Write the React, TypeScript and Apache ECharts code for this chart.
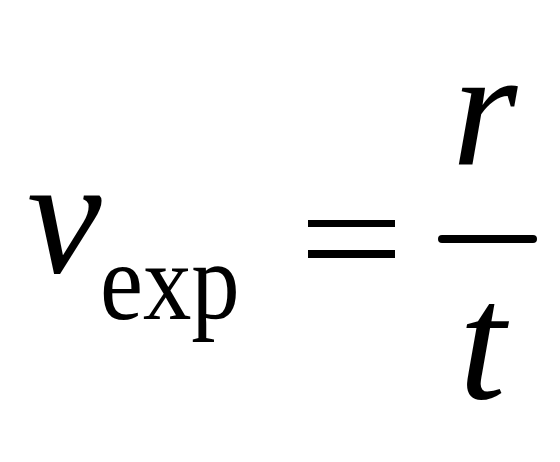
import { useEffect, useRef } from "react";
import * as echarts from "echarts";

// formula pieces: v_exp = r / t
const letters = ["v", "exp", "r", "t"];
const letterStyles = ["italic", "normal", "italic", "italic"];
const family = "Liberation Serif";

export default function App() {
  const chartRef = useRef<HTMLDivElement>(null);

  useEffect(() => {
    if (!chartRef.current) return;
    const chart = echarts.init(chartRef.current, undefined, { renderer: "svg" });

    // placement of each piece: left, top, horizontal and vertical scale
    const place = [
      [27, 131, 4.2, 4.2],
      [100, 227, 2.42, 2.75],
      [452, 24, 4.2, 4.2],
      [459, 257, 4.2, 4.2],
    ];

    chart.setOption({
      animation: false,
      graphic: [
        ...letters.map((t, i) => ({
          type: "text",
          x: place[i][0],
          y: place[i][1],
          scaleX: place[i][2],
          scaleY: place[i][3],
          style: {
            text: t,
            fontFamily: family,
            fontSize: 40,
            fontStyle: letterStyles[i],
            fill: "#000",
          },
        })),
        // equals sign
        { type: "rect", shape: { x: 308, y: 220, width: 87, height: 7 }, style: { fill: "#000" } },
        { type: "rect", shape: { x: 308, y: 250, width: 87, height: 8 }, style: { fill: "#000" } },
        // fraction bar
        {
          type: "line",
          shape: { x1: 442, y1: 239, x2: 533, y2: 239 },
          style: { stroke: "#000", lineWidth: 8, lineCap: "round" },
        },
      ],
    });

    return () => chart.dispose();
  }, []);

  return (
    <div
      ref={chartRef}
      style={{ position: "fixed", left: 0, top: 0, width: 560, height: 462 }}
    />
  );
}
